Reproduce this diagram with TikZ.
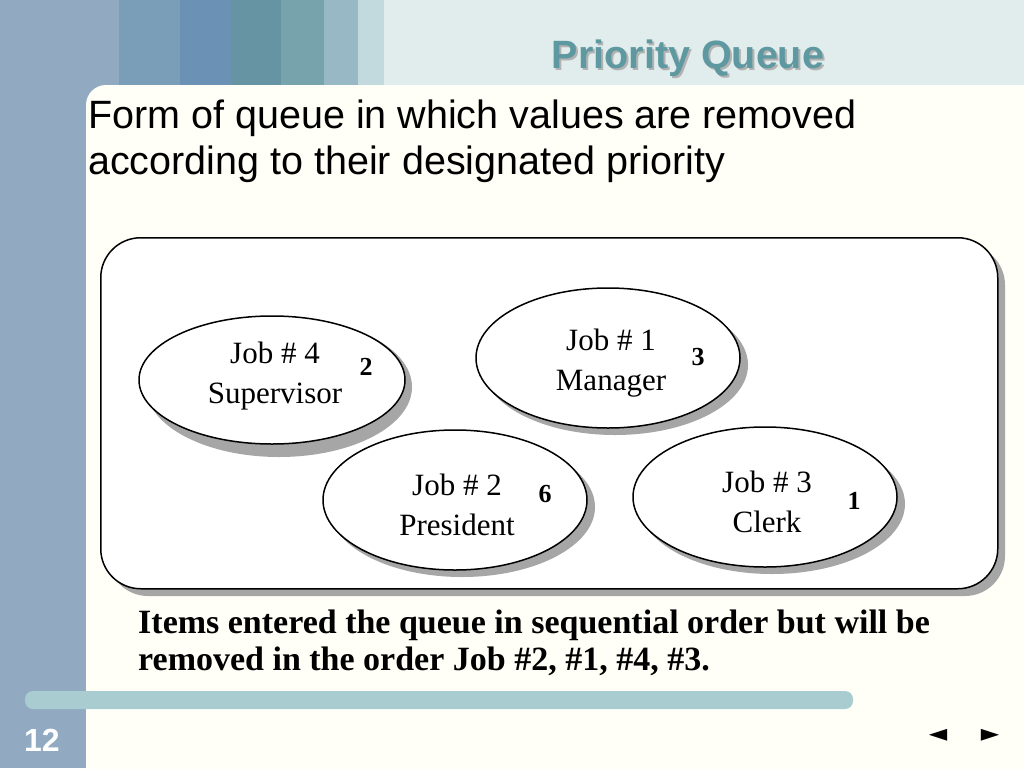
\documentclass[tikz,border=0pt]{standalone}
\usepackage{fontspec}
\setmainfont{Liberation Serif}
\newfontfamily\arial{Liberation Sans}
\newfontfamily\dejavu{DejaVu Sans}
\definecolor{s0}{HTML}{91A9C1}\definecolor{s1}{HTML}{7A9DB8}\definecolor{s2}{HTML}{6B91B4}
\definecolor{s3}{HTML}{6694A3}\definecolor{s4}{HTML}{76A3AC}\definecolor{s5}{HTML}{99B8C6}
\definecolor{s6}{HTML}{C2DADD}\definecolor{s7}{HTML}{E1EDED}\definecolor{paper}{HTML}{FFFFF8}
\definecolor{ttl}{HTML}{5E98A0}\definecolor{barc}{HTML}{A8CCCF}
\begin{document}
\begin{tikzpicture}[x=1pt,y=-1pt,
  job/.style={ellipse,draw,line width=1.5pt,fill=white,minimum width=264pt,minimum height=140pt,inner sep=0pt},
  jt/.style={align=center,font=\fontsize{31}{40}\selectfont,inner sep=0pt},
  pri/.style={font=\fontsize{26}{28}\selectfont\bfseries}]
\usetikzlibrary{shapes.geometric}
\useasboundingbox (0,0) rectangle (1024,768);
\fill[s0] (0,0) rectangle (1024,768);
\fill[s1] (119,0) rectangle (180,85);
\fill[s2] (180,0) rectangle (231,85);
\fill[s3] (231,0) rectangle (281,85);
\fill[s4] (281,0) rectangle (324,85);
\fill[s5] (324,0) rectangle (358,85);
\fill[s6] (358,0) rectangle (384,85);
\fill[s7] (384,0) rectangle (1024,85);
\fill[paper,rounded corners=20pt] (86,85) rectangle (1060,800);
\fill[paper] (1000,85) rectangle (1024,768) (100,740) rectangle (1024,768);
\fill[barc,rounded corners=8pt] (25,691) rectangle (853,709);
\node[text=gray!60,font=\arial\bfseries\fontsize{39.5}{42}\selectfont] at (690,60) {Priority Queue};
\node (title) [text=ttl,font=\arial\bfseries\fontsize{39.5}{42}\selectfont] at (688,58) {Priority Queue};
\node (body) [anchor=north west,align=left,font=\arial\fontsize{39.5}{46}\selectfont,inner sep=0pt] at (88,100) {Form of queue in which values are removed\\according to their designated priority};
\fill[gray!70,rounded corners=40pt] (108,245) rectangle (1005,596);
\node (box) [draw,line width=1.5pt,fill=white,rounded corners=40pt,minimum width=897pt,minimum height=351pt,anchor=north west] at (100,237) {};
\foreach \c in {(279,387),(615,365),(462,507),(772,504)} \fill[gray!70] \c ellipse [x radius=133pt, y radius=70pt];
\node (j4) [job,minimum height=128pt,minimum width=266pt] at (272,380) {};
\node (j1) [job] at (608,358) {};
\node (j2) [job] at (455,500) {};
\node (j3) [job] at (765,497) {};
\node[jt] at (275,376) {Job \# 4\\Supervisor};
\node[jt] at (611,363) {Job \# 1\\Manager};
\node[jt] at (457,505) {Job \# 2\\President};
\node[jt] at (767,502) {Job \# 3\\Clerk};
\node (p4) [pri] at (366,367) {2};
\node (p1) [pri] at (698,357) {3};
\node (p2) [pri] at (545,494) {6};
\node (p3) [pri] at (854,501) {1};
\node (note) [anchor=north west,align=left,inner sep=0pt,font=\bfseries\fontsize{34}{37}\selectfont] at (138,610) {Items entered the queue in sequential order but will be\\removed in the order Job \#2, \#1, \#4, \#3.};
\node (num) [text=white,font=\arial\bfseries\fontsize{32}{34}\selectfont] at (42,740) {12};
\node (prev) [font=\dejavu\fontsize{24}{26}\selectfont] at (938,735) {◄};
\node (next) [font=\dejavu\fontsize{24}{26}\selectfont] at (990,735) {►};
\end{tikzpicture}
\end{document}
